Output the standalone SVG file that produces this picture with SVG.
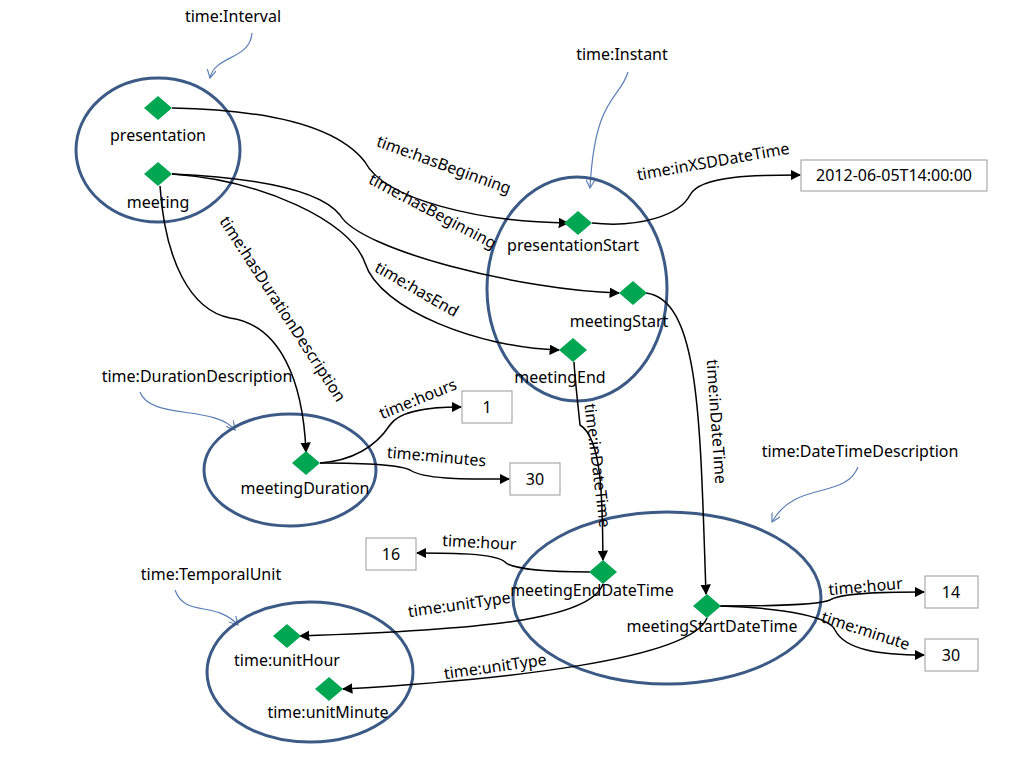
<svg xmlns="http://www.w3.org/2000/svg" width="1024" height="768" viewBox="0 0 1024 768">
<defs>
<marker id="a" viewBox="0 0 10 10" refX="9" refY="5" markerWidth="7" markerHeight="7" orient="auto"><path d="M0,0L10,5L0,10z" fill="#000"/></marker>
<marker id="b" viewBox="0 0 10 10" refX="9" refY="5" markerWidth="8" markerHeight="8" orient="auto"><path d="M0,0L9,5L0,10" fill="none" stroke="#5b7fb5" stroke-width="1.2"/></marker>
<style>
text{font-family:"Noto Sans","Open Sans",sans-serif;font-size:16px;fill:#000}
.c{fill:none;stroke:#3b5a85;stroke-width:3}
.d{fill:#00a651}
.e{fill:none;stroke:#000;stroke-width:1.5;marker-end:url(#a)}
.t{fill:none;stroke:#5b7fb5;stroke-width:1.2;marker-end:url(#b)}
.bx{fill:#fff;stroke:#999;stroke-width:1}
.m{text-anchor:middle}
</style>
</defs>
<g id="types">
<text x="233" y="22" class="m">time:Interval</text><path class="t" d="M252,33C250,60 215,55 210,78"/>
<text x="622" y="60" class="m">time:Instant</text><path class="t" d="M628,72C620,100 595,95 590,188"/>
<text x="197" y="382" class="m">time:DurationDescription</text><path class="t" d="M140,392C150,420 215,405 235,430"/>
<text x="860" y="457" class="m">time:DateTimeDescription</text><path class="t" d="M858,467C845,500 795,480 772,522"/>
<text x="211" y="580" class="m">time:TemporalUnit</text><path class="t" d="M175,590C185,618 215,600 238,625"/>
</g>
<g id="sets">
<ellipse class="c" cx="158" cy="150" rx="82" ry="72"/>
<ellipse class="c" cx="577" cy="289" rx="90" ry="112"/>
<ellipse class="c" cx="290" cy="470" rx="86" ry="56"/>
<ellipse class="c" cx="667" cy="598" rx="154" ry="86"/>
<ellipse class="c" cx="310" cy="672" rx="103" ry="70"/>
</g>
<g id="connectors">
<path class="e" d="M172,108C280,110 340,130 365,162C385,200 480,222 568,223"/>
<path class="e" d="M172,174C260,178 320,190 340,215C360,250 520,290 619,293"/>
<path class="e" d="M172,174C260,180 350,220 365,263C380,310 480,348 559,350"/>
<path class="e" d="M160,186C165,260 190,310 230,318C280,325 303,380 306,452"/>
<path class="e" d="M592,223C640,228 680,215 690,195C700,175 760,175 800,175"/>
<path class="e" d="M646,293C700,300 700,420 706,594"/>
<path class="e" d="M574,362C575,380 578,405 580,425C605,440 602,520 603,560"/>
<path class="e" d="M320,463C360,460 380,440 390,425C400,410 430,407 461,407"/>
<path class="e" d="M320,463C370,463 400,465 410,470C425,480 470,479 509,479"/>
<path class="e" d="M590,572C540,572 510,568 505,562C495,553 450,553 417,553"/>
<path class="e" d="M603,584C590,620 480,630 300,636"/>
<path class="e" d="M720,606C770,606 820,605 830,600C840,593 880,592 924,592"/>
<path class="e" d="M720,606C790,608 830,618 835,630C845,650 880,655 924,655"/>
<path class="e" d="M707,618C690,660 500,680 343,689"/>
</g>
<g id="edge-labels">
<text transform="translate(442,170) rotate(20)" class="m">time:hasBeginning</text>
<text transform="translate(430,216) rotate(28)" class="m">time:hasBeginning</text>
<text transform="translate(414,294) rotate(30)" class="m">time:hasEnd</text>
<text transform="translate(278,312) rotate(57)" class="m">time:hasDurationDescription</text>
<text transform="translate(714,167) rotate(-10)" class="m">time:inXSDDateTime</text>
<text transform="translate(711,422) rotate(86)" class="m">time:inDateTime</text>
<text transform="translate(592,466) rotate(83)" class="m">time:inDateTime</text>
<text transform="translate(420,404) rotate(-22)" class="m">time:hours</text>
<text transform="translate(436,462) rotate(5)" class="m">time:minutes</text>
<text transform="translate(479,548) rotate(3)" class="m">time:hour</text>
<text transform="translate(460,610) rotate(-8)" class="m">time:unitType</text>
<text transform="translate(496,672) rotate(-8)" class="m">time:unitType</text>
<text transform="translate(866,592) rotate(-5)" class="m">time:hour</text>
<text transform="translate(864,636) rotate(18)" class="m">time:minute</text>
</g>
<g id="literals">
<rect class="bx" x="801" y="160" width="186" height="31"/><text x="894" y="181" class="m">2012-06-05T14:00:00</text>
<rect class="bx" x="462" y="391" width="50" height="32"/><text x="487" y="413" class="m">1</text>
<rect class="bx" x="510" y="463" width="50" height="32"/><text x="535" y="485" class="m">30</text>
<rect class="bx" x="366" y="538" width="50" height="32"/><text x="391" y="560" class="m">16</text>
<rect class="bx" x="925" y="576" width="53" height="32"/><text x="951" y="598" class="m">14</text>
<rect class="bx" x="925" y="639" width="53" height="32"/><text x="951" y="661" class="m">30</text>
</g>
<g id="n-presentation"><path class="d" d="M158,96L172,108L158,120L144,108z"/><text x="158" y="141" class="m">presentation</text></g>
<g id="n-meeting"><path class="d" d="M158,162L172,174L158,186L144,174z"/><text x="158" y="208" class="m">meeting</text></g>
<g id="n-presentationStart"><path class="d" d="M578,211L592,223L578,235L564,223z"/><text x="573" y="251" class="m">presentationStart</text></g>
<g id="n-meetingStart"><path class="d" d="M633,281L647,293L633,305L619,293z"/><text x="619" y="327" class="m">meetingStart</text></g>
<g id="n-meetingEnd"><path class="d" d="M573,338L587,350L573,362L559,350z"/><text x="560" y="383" class="m">meetingEnd</text></g>
<g id="n-meetingDuration"><path class="d" d="M306,451L320,463L306,475L292,463z"/><text x="305" y="494" class="m">meetingDuration</text></g>
<g id="n-meetingEndDateTime"><path class="d" d="M603,560L617,572L603,584L589,572z"/><text x="592" y="596" class="m">meetingEndDateTime</text></g>
<g id="n-meetingStartDateTime"><path class="d" d="M707,594L721,606L707,618L693,606z"/><text x="712" y="632" class="m">meetingStartDateTime</text></g>
<g id="n-unitHour"><path class="d" d="M287,624L301,636L287,648L273,636z"/><text x="287" y="666" class="m">time:unitHour</text></g>
<g id="n-unitMinute"><path class="d" d="M329,677L343,689L329,701L315,689z"/><text x="328" y="718" class="m">time:unitMinute</text></g>
</svg>
